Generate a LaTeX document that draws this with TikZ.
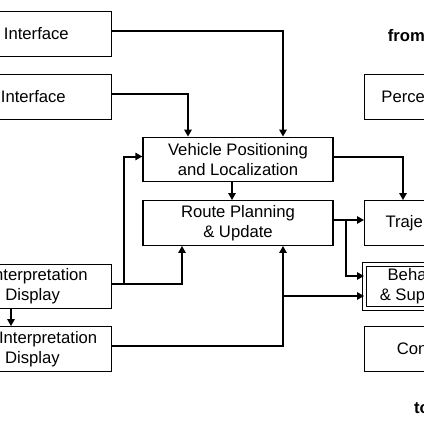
\documentclass[tikz,border=0pt]{standalone}
\usepackage{fontspec}
\setmainfont{Liberation Sans}
\usetikzlibrary{arrows.meta}

\begin{document}
\begin{tikzpicture}[x=0.6pt, y=-0.6pt, >={Triangle[length=4.2pt, width=4.4pt]},
    block/.style={rectangle, draw, line width=0.8pt, minimum height=26.7pt, inner ysep=1pt, align=center},
    flow/.style={->, line width=1.2pt}]
  \useasboundingbox (0,0) rectangle (424,424);
  \clip (0,0) rectangle (424,424);
  % left column
  \node[block, anchor=east, minimum width=90pt] (userif) at (112,34) {Interface};
  \node[block, anchor=east, minimum width=93.6pt] (vehif) at (112,97) {Interface};
  \node[block, anchor=east, minimum width=87.2pt, align=left] (interp) at (112,286.5) {Interpretation\\\hspace*{9.5pt}Display};
  \node[block, anchor=east, minimum width=75.8pt, align=left] (interpb) at (112,349) {Interpretation\\\hspace*{3.6pt}Display};
  % middle column
  \node[block, minimum width=114pt] (vpos) at (238,159.5) {Vehicle Positioning\\and Localization};
  \node[block, minimum width=114pt] (route) at (238,223) {Route Planning\\\& Update};
  % right column
  \node[block, anchor=west, minimum width=46.2pt] (perc) at (364,97) {Perce};
  \node[block, anchor=west, minimum width=47.5pt] (traj) at (364,223) {Traje};
  \node[block, anchor=west, minimum width=50.9pt, double, double distance=1.6pt] (behav) at (364,286.5) {Beha\\\& Supe};
  \node[block, anchor=west, minimum width=57pt] (ctrl) at (364,349) {Con};
  \node[anchor=base west, inner sep=0pt, font=\bfseries] (from) at (387.5,42) {from};
  \node[anchor=base west, inner sep=0pt, font=\bfseries] (to) at (413.7,413) {to};
  % branch points
  \coordinate (fork1) at (124,283.5);
  \coordinate (fork2) at (283,296);
  \coordinate (fork3) at (346,220);
  \coordinate (drop) at (11,0);
  % connectors
  \draw[flow] ([yshift=1.8pt]userif.east) -| ([xshift=27pt]vpos.north);
  \draw[flow] ([yshift=1.8pt]vehif.east) -| ([xshift=-30pt]vpos.north);
  \draw[flow] ([xshift=-3.6pt]vpos.south) -- ([xshift=-3.6pt]route.north);
  \draw[flow] ([yshift=1.8pt]interp.east) -| ([xshift=-33.6pt]route.south);
  \draw[flow] (fork1) |- ([yshift=1.8pt]vpos.west);
  \draw[flow] (interp.south -| drop) -- (interpb.north -| drop);
  \draw[flow] ([yshift=1.8pt]interpb.east) -| ([xshift=27pt]route.south);
  \draw[flow] (fork2) -- (fork2 -| behav.west);
  \draw[flow] ([yshift=1.8pt]vpos.east) -| ([xshift=23.4pt]traj.north west);
  \draw[flow] ([yshift=1.8pt]route.east) -- ([yshift=1.8pt]traj.west);
  \draw[flow] (fork3) |- ([yshift=6.3pt]behav.west);
\end{tikzpicture}
\end{document}
